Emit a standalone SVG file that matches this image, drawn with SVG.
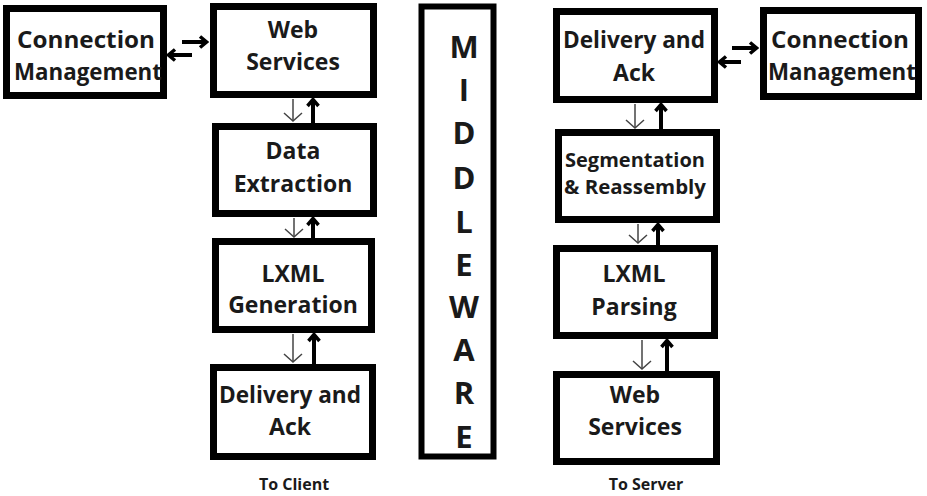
<svg xmlns="http://www.w3.org/2000/svg" width="927" height="496" viewBox="0 0 927 496">
<defs>
<style>
.box{fill:#fff;stroke:#000;stroke-width:7}
.t{font-family:"Open Sans","Noto Sans","Liberation Sans",sans-serif;font-weight:bold;font-size:23px;fill:#1a1a1a;text-anchor:middle}
.s{font-size:19px}
.mw{font-size:31px}
.lbl{font-size:16px}
.thin{stroke:#444;stroke-width:1.5;fill:none}
.thick{stroke:#000;stroke-width:4;fill:none}
</style>
<marker id="hThin" viewBox="0 0 10 20" refX="9" refY="10" markerWidth="10" markerHeight="20" markerUnits="userSpaceOnUse" orient="auto">
<path d="M1,1 L9,10 L1,19" fill="none" stroke="#444" stroke-width="1.5"/>
</marker>
<marker id="hThick" viewBox="0 0 12 14" refX="10" refY="7" markerWidth="12" markerHeight="14" markerUnits="userSpaceOnUse" orient="auto">
<path d="M3,1.5 L9.5,7 L3,12.5" fill="none" stroke="#000" stroke-width="3.5"/>
</marker>
</defs>
<rect width="927" height="496" fill="#fff"/>

<g id="cm-left">
<rect class="box" x="6.500" y="8.500" width="157" height="87"/>
<text class="t" x="86" y="48" textLength="138" lengthAdjust="spacingAndGlyphs">Connection</text>
<text class="t" x="88" y="80" textLength="148" lengthAdjust="spacingAndGlyphs">Management</text>
</g>
<g id="ws-left">
<rect class="box" x="213.500" y="6.500" width="160" height="88"/>
<text class="t" x="293" y="38">Web</text>
<text class="t" x="293" y="70">Services</text>
</g>
<g id="de-left">
<rect class="box" x="215.500" y="126.500" width="158" height="87"/>
<text class="t" x="293" y="159">Data</text>
<text class="t" x="293" y="192">Extraction</text>
</g>
<g id="lx-left">
<rect class="box" x="215.500" y="241.500" width="156" height="88"/>
<text class="t" x="293" y="282">LXML</text>
<text class="t" x="293" y="313">Generation</text>
</g>
<g id="da-left">
<rect class="box" x="213.500" y="367.500" width="159" height="89"/>
<text class="t" x="290" y="403" textLength="142" lengthAdjust="spacingAndGlyphs">Delivery and</text>
<text class="t" x="290" y="435">Ack</text>
</g>

<g id="middleware">
<rect class="box" x="421.500" y="6.500" width="72" height="450" style="stroke-width:6"/>
<text class="t mw" x="464" y="58">M</text>
<text class="t mw" x="464" y="101">I</text>
<text class="t mw" x="464" y="144">D</text>
<text class="t mw" x="464" y="189">D</text>
<text class="t mw" x="464" y="233">L</text>
<text class="t mw" x="464" y="276">E</text>
<text class="t mw" x="464" y="318">W</text>
<text class="t mw" x="464" y="361">A</text>
<text class="t mw" x="464" y="404">R</text>
<text class="t mw" x="464" y="448">E</text>
</g>

<g id="da-right">
<rect class="box" x="556.500" y="11.500" width="158" height="88"/>
<text class="t" x="634" y="48" textLength="142" lengthAdjust="spacingAndGlyphs">Delivery and</text>
<text class="t" x="634" y="81">Ack</text>
</g>
<g id="cm-right">
<rect class="box" x="763.500" y="10.500" width="155" height="86"/>
<text class="t" x="840" y="48" textLength="138" lengthAdjust="spacingAndGlyphs">Connection</text>
<text class="t" x="842" y="80" textLength="148" lengthAdjust="spacingAndGlyphs">Management</text>
</g>
<g id="sr-right">
<rect class="box" x="558.500" y="132.500" width="158" height="87"/>
<text class="t s" x="635" y="167" textLength="140" lengthAdjust="spacingAndGlyphs">Segmentation</text>
<text class="t s" x="635" y="194" textLength="142" lengthAdjust="spacingAndGlyphs">&amp; Reassembly</text>
</g>
<g id="lp-right">
<rect class="box" x="556.500" y="248.500" width="158" height="87"/>
<text class="t" x="634" y="282">LXML</text>
<text class="t" x="634" y="315">Parsing</text>
</g>
<g id="ws-right">
<rect class="box" x="556.500" y="374.500" width="160" height="87"/>
<text class="t" x="635" y="403">Web</text>
<text class="t" x="635" y="435">Services</text>
</g>

<g id="connectors">
<line class="thick" x1="182" y1="42" x2="207" y2="42" marker-end="url(#hThick)"/>
<line class="thick" x1="192" y1="55" x2="168" y2="55" marker-end="url(#hThick)"/>
<line class="thin" x1="293" y1="99" x2="293" y2="121" marker-end="url(#hThin)"/>
<line class="thick" x1="313" y1="123" x2="313" y2="99" marker-end="url(#hThick)"/>
<line class="thin" x1="294" y1="218" x2="294" y2="237" marker-end="url(#hThin)"/>
<line class="thick" x1="313" y1="238" x2="313" y2="218" marker-end="url(#hThick)"/>
<line class="thin" x1="293" y1="334" x2="293" y2="362" marker-end="url(#hThin)"/>
<line class="thick" x1="314" y1="364" x2="314" y2="334" marker-end="url(#hThick)"/>

<line class="thick" x1="732" y1="48" x2="757" y2="48" marker-end="url(#hThick)"/>
<line class="thick" x1="741" y1="62" x2="719" y2="62" marker-end="url(#hThick)"/>
<line class="thin" x1="635" y1="104" x2="635" y2="128" marker-end="url(#hThin)"/>
<line class="thick" x1="661" y1="129" x2="661" y2="104" marker-end="url(#hThick)"/>
<line class="thin" x1="638" y1="224" x2="638" y2="243" marker-end="url(#hThin)"/>
<line class="thick" x1="658" y1="245" x2="658" y2="224" marker-end="url(#hThick)"/>
<line class="thin" x1="642" y1="340" x2="642" y2="369" marker-end="url(#hThin)"/>
<line class="thick" x1="667" y1="371" x2="667" y2="340" marker-end="url(#hThick)"/>
</g>

<g id="labels">
<text class="t lbl" x="294" y="490">To Client</text>
<text class="t lbl" x="646" y="490">To Server</text>
</g>
</svg>
